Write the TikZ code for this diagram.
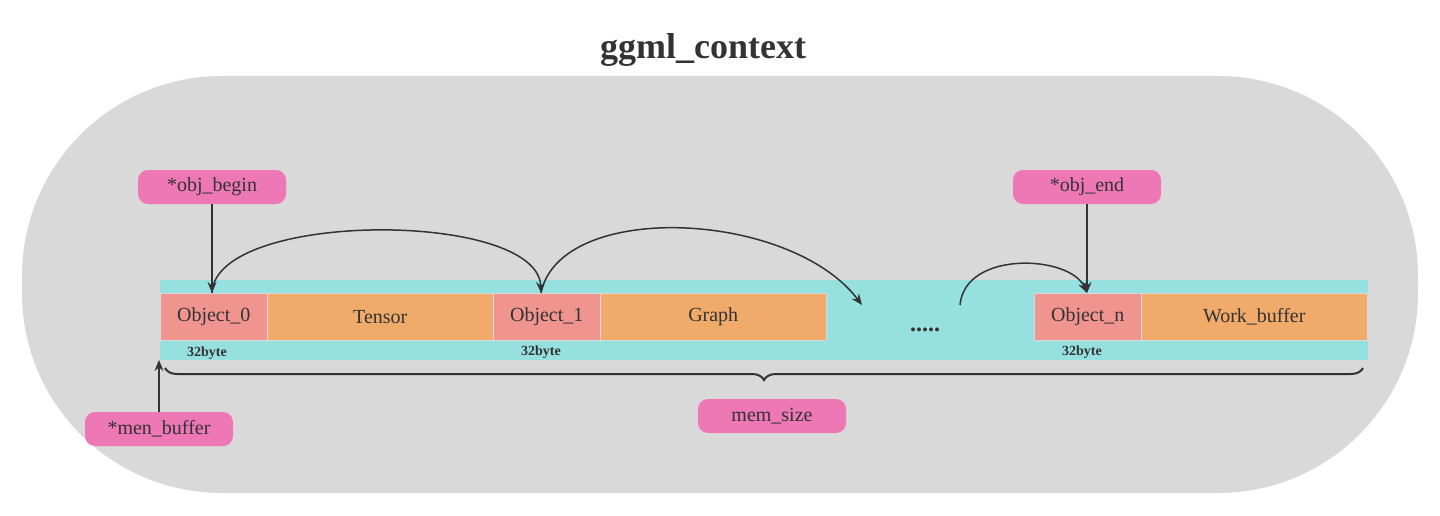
\documentclass[tikz,border=0pt]{standalone}
\usepackage{fontspec}
\setmainfont{Liberation Serif}
\usetikzlibrary{decorations.pathreplacing,arrows.meta}
\definecolor{bg}{HTML}{D9D9D9}
\definecolor{cy}{HTML}{96E0E0}
\definecolor{sal}{HTML}{F09490}
\definecolor{ora}{HTML}{F0AA6A}
\definecolor{pk}{HTML}{EE77B6}
\definecolor{tx}{HTML}{333333}
\begin{document}
\begin{tikzpicture}[x=1pt,y=-1pt,
  cell/.style={draw=white!70!gray,line width=0.5pt,minimum height=47pt,anchor=north west,inner sep=0pt,font=\fontsize{20}{22}\selectfont,text=tx},
  obj/.style={cell,fill=sal,minimum width=107pt},
  dat/.style={cell,fill=ora,minimum width=226pt},
  pill/.style={fill=pk,rounded corners=10pt,minimum width=148pt,minimum height=34pt,inner sep=0pt,font=\fontsize{20}{22}\selectfont,text=tx},
  byte/.style={font=\bfseries\fontsize{14}{16}\selectfont,text=tx},
  arr/.style={-{Stealth[length=11pt,width=9pt]},line width=1.5pt,draw=tx}]
\useasboundingbox (0,0) rectangle (1440,516);
\node[font=\bfseries\fontsize{36}{40}\selectfont,text=tx] (title) at (703,50) {ggml\_context};
\fill[bg,rounded corners=200pt] (22,76) rectangle (1418,493);
\fill[cy] (160,280) rectangle (1368,360);
\node[obj] (o0) at (160,293) {Object\_0};
\node[dat] (t) at (267,293) {Tensor};
\node[obj] (o1) at (493,293) {Object\_1};
\node[dat] (g) at (600,293) {Graph};
\node[obj] (on) at (1034,293) {Object\_n};
\node[dat] (w) at (1141,293) {Work\_buffer};
\node[font=\bfseries\fontsize{24}{26}\selectfont,text=tx] (dots) at (925,330) {.....};
\node[byte] (b0) at (207,353) {32byte};
\node[byte] (b1) at (541,352) {32byte};
\node[byte] (bn) at (1082,352) {32byte};
\node[pill] (ob) at (212,187) {*obj\_begin};
\node[pill] (oe) at (1087,187) {*obj\_end};
\node[pill] (mb) at (159,429) {*men\_buffer};
\node[pill] (ms) at (772,416) {mem\_size};
\coordinate (p0) at (212,293);
\coordinate (p1) at (541,293);
\coordinate (pd) at (862,305);
\coordinate (pe) at (960,305);
\coordinate (pn) at (1087,293);
\coordinate (pb) at (159,360);
\draw[arr] (ob) -- (p0);
\draw[arr] (oe) -- (pn);
\draw[arr] (mb) -- (pb);
\draw[arr] (p0) .. controls (215,210) and (538,210) .. (p1);
\draw[arr] (p1) .. controls (560,200) and (790,210) .. (pd);
\draw[arr] (pe) .. controls (965,250) and (1070,255) .. (pn);
\draw[decorate,decoration={brace,amplitude=12pt},line width=2pt,draw=tx] (1363,368) -- (165,368);
\end{tikzpicture}
\end{document}
